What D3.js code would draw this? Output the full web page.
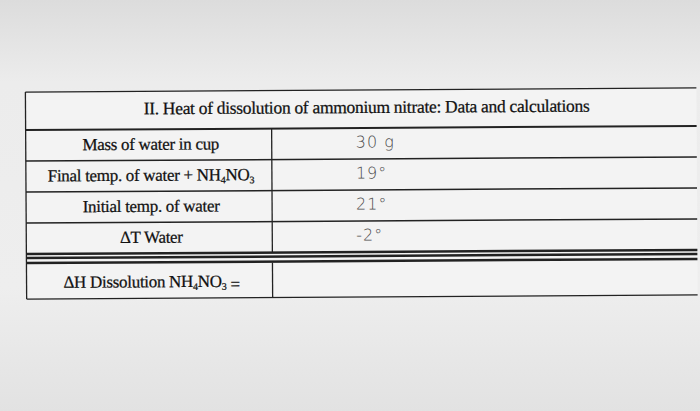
<!DOCTYPE html>
<html><head><meta charset="utf-8">
<script src="https://cdn.jsdelivr.net/npm/d3@7"></script>
<style>body{margin:0;background:#e9e9e9}</style></head>
<body><svg id="c" width="700" height="411"></svg>
<script>
const title = "II.  Heat of dissolution of ammonium nitrate: Data and calculations";
const labels = ["Mass of water in cup", "Final temp. of water + NH4NO3", "Initial temp. of water", "ΔT Water"];
const values = ["30 g", "19°", "21°", "-2°"];
const resultLabel = "ΔH Dissolution NH4NO3 =";

const svg = d3.select("#c");
const defs = svg.append("defs");
const g = defs.append("linearGradient").attr("id","bg").attr("x1",0).attr("y1",0).attr("x2",0).attr("y2",1);
g.append("stop").attr("offset","0").attr("stop-color","#dcdcdc");
g.append("stop").attr("offset","0.2").attr("stop-color","#ececec");
g.append("stop").attr("offset","0.7").attr("stop-color","#eeeeee");
g.append("stop").attr("offset","1").attr("stop-color","#e2e2e2");
svg.append("rect").attr("width",700).attr("height",411).attr("fill","url(#bg)");

const root = svg.append("g").attr("transform","rotate(-0.35 360 190)");
const L = 26, R = 697, mid = 272;
root.append("rect").attr("x",L).attr("y",90).attr("width",R-L).attr("height",207).attr("fill","#f3f3f3");

const y = d3.scaleBand().domain(d3.range(labels.length)).range([128,252]);
const line = (x1,y1,x2,y2,w=1.3)=>root.append("line").attr("x1",x1).attr("y1",y1).attr("x2",x2).attr("y2",y2).attr("stroke","#222").attr("stroke-width",w);

line(L,90,R,90); line(L,90,L,297); line(L,297,R,297);
line(L,128,R,128,2);
labels.forEach((d,i)=>{ if(i>0) line(L,y(i),R,y(i),1.5); });
line(mid,128,mid,252); line(mid,262,mid,297);
line(L,252,R,252,2.5); line(L,256,R,256,2.5); line(L,261,R,261,2.5);

function addLabel(sel, text){
  const parts = text.split(/(NH4NO3)/);
  parts.forEach(p=>{
    if(p==="NH4NO3"){
      sel.append("tspan").text("NH");
      sel.append("tspan").attr("font-size",10).attr("dy",3).text("4");
      sel.append("tspan").attr("dy",-3).text("NO");
      sel.append("tspan").attr("font-size",10).attr("dy",3).text("3");
      sel.append("tspan").attr("dy",-3).text("");
    } else if(p) sel.append("tspan").text(p);
  });
}
const tf = "'Liberation Serif', serif";
root.append("text").attr("x",367).attr("y",113).attr("text-anchor","middle")
  .attr("font-family",tf).attr("font-size",17.5).attr("letter-spacing",-0.3).attr("fill","#111")
  .attr("stroke","#111").attr("stroke-width",0.25).text(title);

labels.forEach((d,i)=>{
  const t = root.append("text").attr("x",(L+mid)/2+2).attr("y",y(i)+y.bandwidth()/2+5)
   .attr("text-anchor","middle").attr("font-family",tf).attr("font-size",17).attr("letter-spacing",-0.3)
   .attr("fill","#111").attr("stroke","#111").attr("stroke-width",0.25);
  addLabel(t,d);
  root.append("text").attr("x",356).attr("y",y(i)+y.bandwidth()/2+4)
   .attr("font-family","'DejaVu Sans', sans-serif").attr("font-size",16).attr("font-weight",200)
   .attr("fill","#4a4a4a").attr("letter-spacing",1).text(values[i]);
});
const t2 = root.append("text").attr("x",(L+mid)/2+2).attr("y",286).attr("text-anchor","middle")
  .attr("font-family",tf).attr("font-size",17).attr("letter-spacing",-0.3)
  .attr("fill","#111").attr("stroke","#111").attr("stroke-width",0.25);
addLabel(t2,resultLabel);
</script></body></html>
